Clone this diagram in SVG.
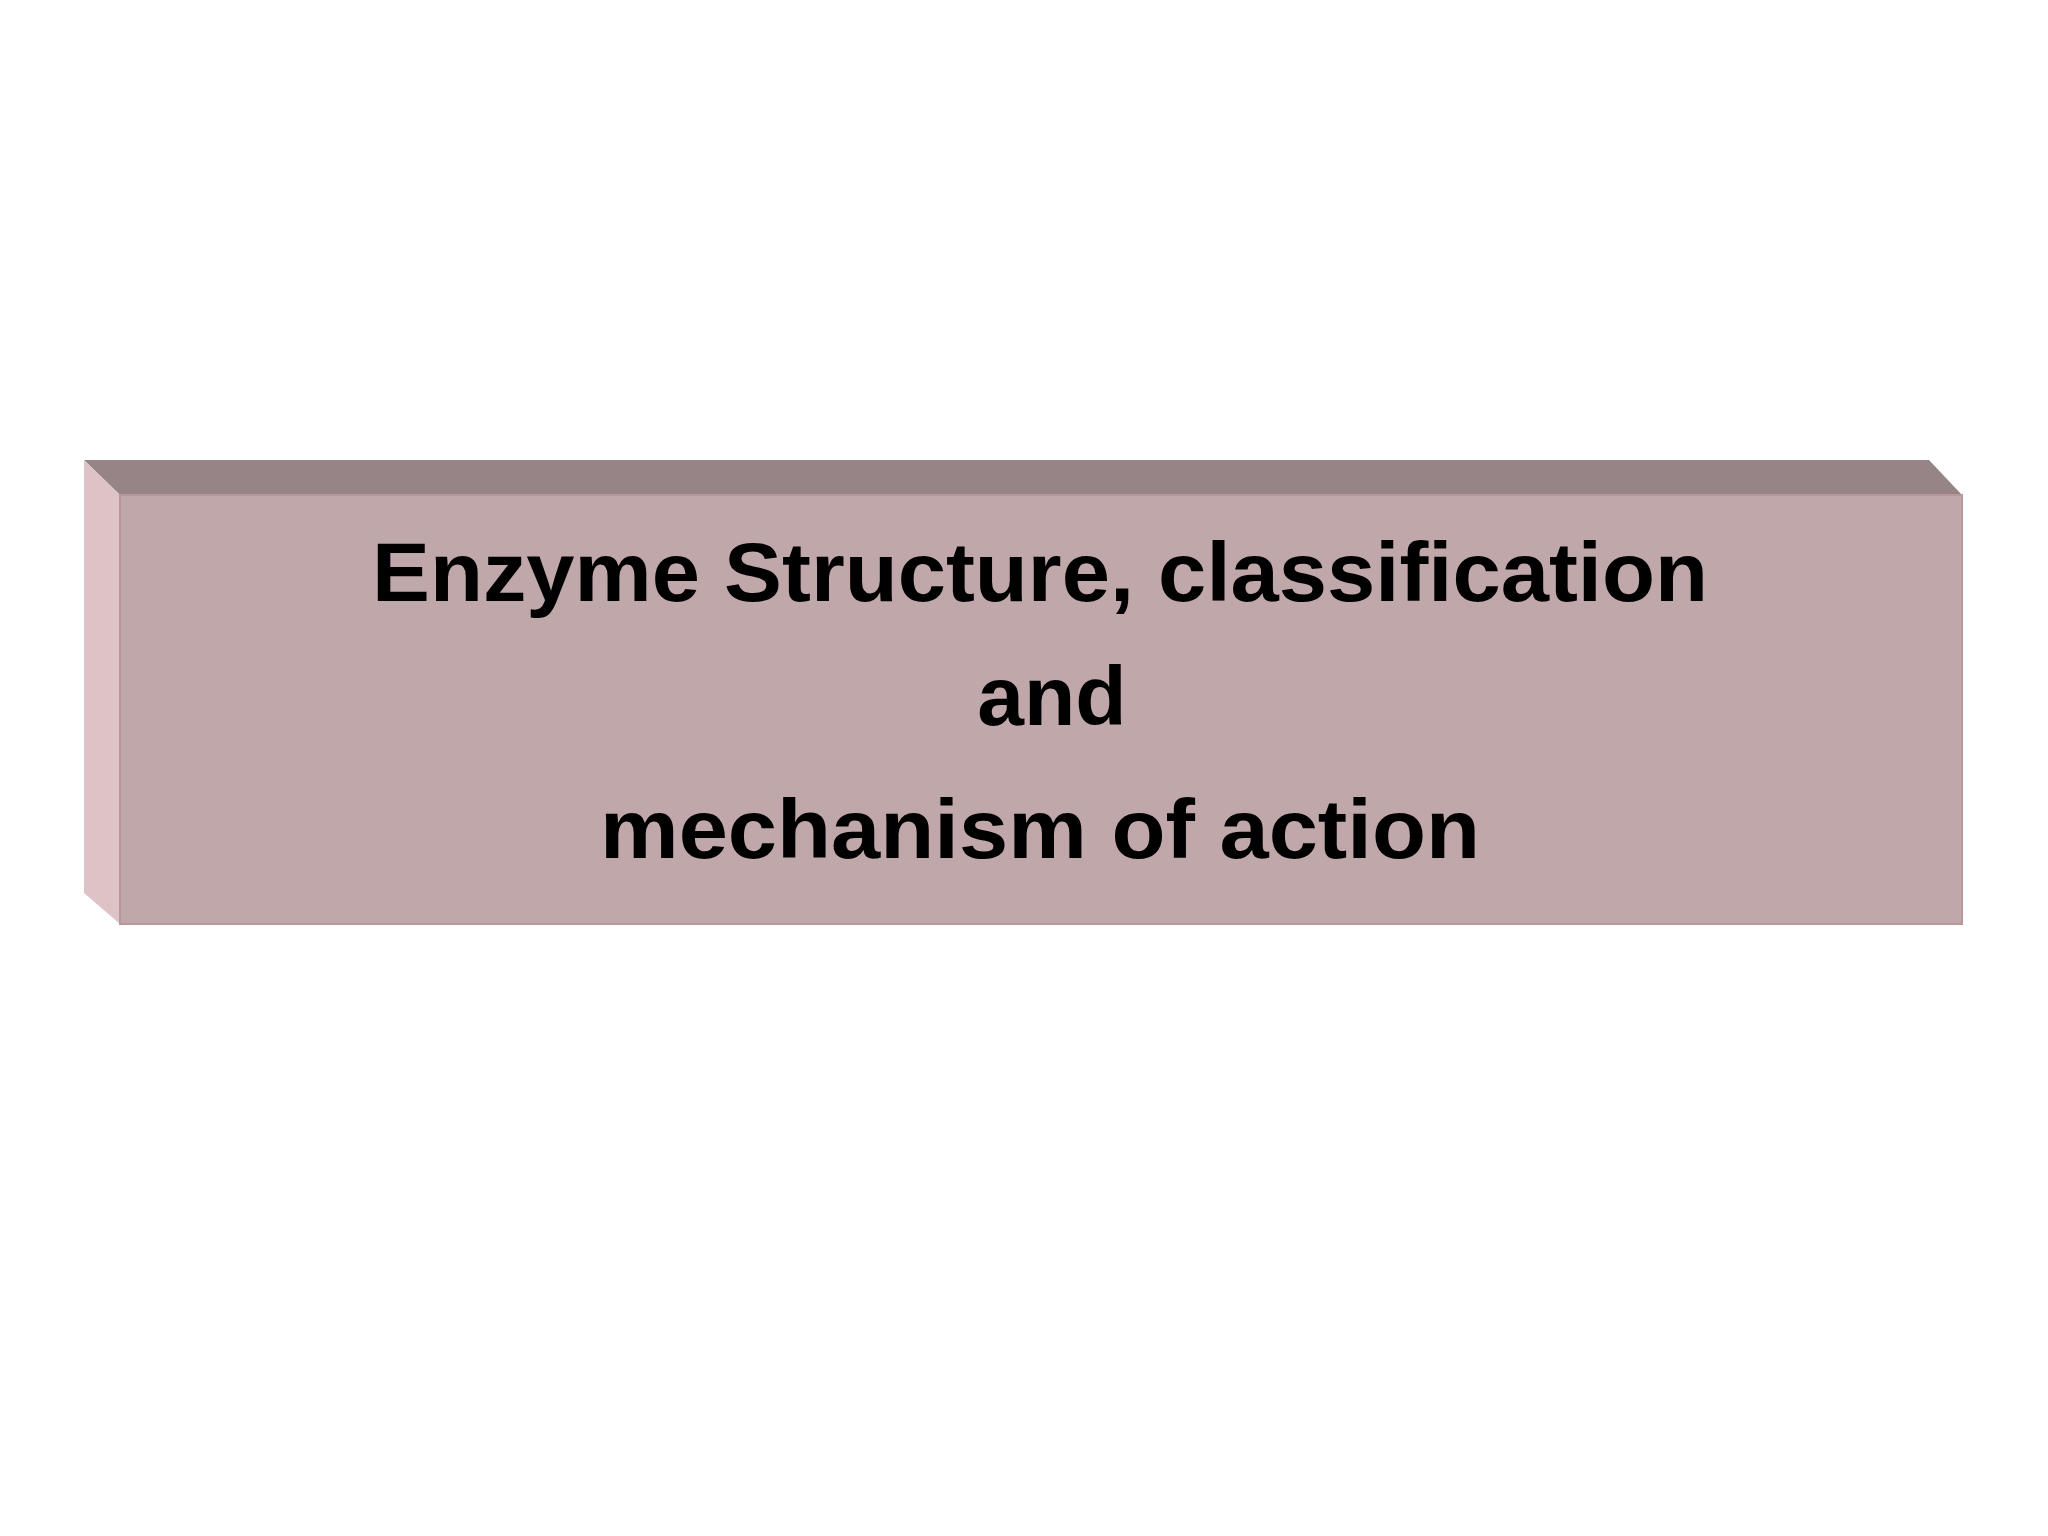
<svg xmlns="http://www.w3.org/2000/svg" width="2048" height="1536" viewBox="0 0 2048 1536">
<style>
.t{font-family:"Liberation Sans",Arial,sans-serif;font-weight:bold;font-size:84px;fill:#000;text-anchor:middle}
</style>
<rect width="2048" height="1536" fill="#fff"/>
<g id="title-box">
<polygon points="84,460 1929,460 1962,495 120,495" fill="#968486"/>
<polygon points="84,460 120,495 120,924 84,893" fill="#DDC3C6"/>
<rect x="120" y="495" width="1842" height="429" fill="#C0A7AA" stroke="#B8969B" stroke-width="2"/>
<text class="t" x="1040" y="601" textLength="1336" lengthAdjust="spacingAndGlyphs">Enzyme Structure, classification</text>
<text class="t" x="1052" y="725">and</text>
<text class="t" x="1040" y="858" textLength="880" lengthAdjust="spacingAndGlyphs">mechanism of action</text>
</g>
</svg>
